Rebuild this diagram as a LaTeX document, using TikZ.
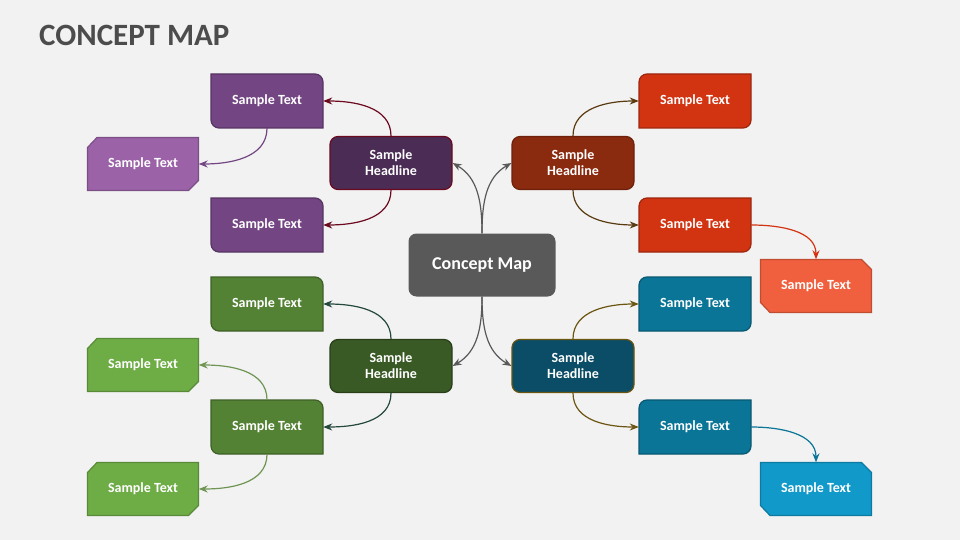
\documentclass[tikz,border=0pt]{standalone}
\usepackage{fontspec}
\setmainfont{Carlito}
\usetikzlibrary{arrows.meta}
\definecolor{bg}{HTML}{F2F2F2}
\definecolor{pH}{HTML}{4B2C55}\definecolor{pS}{HTML}{734683}\definecolor{pC}{HTML}{9B62A8}\definecolor{pL}{HTML}{6B0A1F}
\definecolor{oH}{HTML}{8A2A0F}\definecolor{oS}{HTML}{D23412}\definecolor{oC}{HTML}{F05F3E}\definecolor{oL}{HTML}{5A3A10}
\definecolor{gH}{HTML}{3A5A25}\definecolor{gS}{HTML}{548235}\definecolor{gC}{HTML}{6EAC46}\definecolor{gL}{HTML}{24493A}
\definecolor{tH}{HTML}{0B4D66}\definecolor{tS}{HTML}{0B7597}\definecolor{tC}{HTML}{1199C9}\definecolor{tL}{HTML}{6B5510}
\definecolor{cM}{HTML}{595959}
\tikzset{
 lbl/.style={text=white,font=\bfseries\fontsize{14}{16}\selectfont,align=center,inner sep=0pt},
 conn/.style={line width=1.2pt,-{Stealth[length=9pt,width=7pt]}},
}
% left sample text: rounded NE & SW
\newcommand\stL[4]{\begin{scope}[shift={(#1,#2)}]
 \filldraw[fill=#3,draw=#3!75!black,line width=1.2pt] (-56,27) -- (48,27) arc[start angle=90,end angle=0,radius=8] -- (56,-27) -- (-48,-27) arc[start angle=270,end angle=180,radius=8] -- cycle;
 \end{scope}
 \node[lbl,minimum width=112pt,minimum height=54pt] (#4) at (#1,#2) {Sample Text};}
% right sample text: rounded NW & SE
\newcommand\stR[4]{\begin{scope}[shift={(#1,#2)}]
 \filldraw[fill=#3,draw=#3!75!black,line width=1.2pt] (-48,27) -- (56,27) -- (56,-19) arc[start angle=0,end angle=-90,radius=8] -- (-56,-27) -- (-56,19) arc[start angle=180,end angle=90,radius=8] -- cycle;
 \end{scope}
 \node[lbl,minimum width=112pt,minimum height=54pt] (#4) at (#1,#2) {Sample Text};}
% left clipped: NW & SE
\newcommand\clL[4]{\begin{scope}[shift={(#1,#2)}]
 \filldraw[fill=#3,draw=#3!80!black,line width=1.2pt] (-46,26.5) -- (55.5,26.5) -- (55.5,-16.5) -- (45.5,-26.5) -- (-55.5,-26.5) -- (-55.5,16.5) -- cycle;
 \end{scope}
 \node[lbl,minimum width=111pt,minimum height=53pt] (#4) at (#1,#2) {Sample Text};}
% right clipped: NE & SW
\newcommand\clR[4]{\begin{scope}[shift={(#1,#2)}]
 \filldraw[fill=#3,draw=#3!80!black,line width=1.2pt] (-55.5,26.5) -- (45.5,26.5) -- (55.5,16.5) -- (55.5,-26.5) -- (-46,-26.5) -- (-55.5,-16.5) -- cycle;
 \end{scope}
 \node[lbl,minimum width=111pt,minimum height=53pt] (#4) at (#1,#2) {Sample Text};}
\begin{document}
\begin{tikzpicture}[x=1pt,y=1pt]
\fill[bg] (0,0) rectangle (960,-540);
\useasboundingbox (0,0) rectangle (960,-540);
\node[anchor=west,text=cM!85!black,font=\bfseries\fontsize{31}{34}\selectfont,inner sep=0pt] (title) at (39,-35) {CONCEPT MAP};
% center
\node[fill=cM,rounded corners=8pt,minimum width=147pt,minimum height=63pt,text=white,font=\bfseries\fontsize{18}{20}\selectfont,inner sep=0pt] (c) at (482,-265) {Concept Map};
% headlines
\node[lbl,fill=pH,draw=pL,line width=1.2pt,rounded corners=8pt,minimum width=122pt,minimum height=53pt] (hp) at (391,-163) {Sample\\Headline};
\node[lbl,fill=oH,draw=oH!80!black,line width=1.2pt,rounded corners=8pt,minimum width=122pt,minimum height=53pt] (ho) at (573,-163) {Sample\\Headline};
\node[lbl,fill=gH,draw=gH!70!black,line width=1.2pt,rounded corners=8pt,minimum width=122pt,minimum height=53pt] (hg) at (391,-366) {Sample\\Headline};
\node[lbl,fill=tH,draw=tL,line width=1.2pt,rounded corners=8pt,minimum width=122pt,minimum height=53pt] (ht) at (573,-366) {Sample\\Headline};
% sample texts
\stL{267}{-101}{pS}{p1}\stL{267}{-225}{pS}{p2}\clL{143}{-164}{pC}{p3}
\stR{695}{-101}{oS}{o1}\stR{695}{-225}{oS}{o2}\clR{816}{-286}{oC}{o3}
\stL{267}{-304}{gS}{g1}\stL{267}{-427}{gS}{g2}\clL{143}{-365}{gC}{g3}\clL{143}{-489}{gC}{g4}
\stR{695}{-304}{tS}{t1}\stR{695}{-427}{tS}{t2}\clR{816}{-489}{tC}{t3}
% connectors
\draw[conn,cM] (c.north) to[out=90,in=-30] (hp.east);
\draw[conn,cM] (c.north) to[out=90,in=210] (ho.west);
\draw[conn,cM] (c.south) to[out=-90,in=30] (hg.east);
\draw[conn,cM] (c.south) to[out=-90,in=150] (ht.west);
\draw[conn,pL] (hp.north) to[out=90,in=0] (p1.east);
\draw[conn,pL] (hp.south) to[out=-90,in=0] (p2.east);
\draw[conn,pS] (p1.south) to[out=-90,in=0] (p3.east);
\draw[conn,oL] (ho.north) to[out=90,in=180] (o1.west);
\draw[conn,oL] (ho.south) to[out=-90,in=180] (o2.west);
\draw[conn,oS] (o2.east) to[out=0,in=90] (o3.north);
\draw[conn,gL] (hg.north) to[out=90,in=0] (g1.east);
\draw[conn,gL] (hg.south) to[out=-90,in=0] (g2.east);
\draw[conn,gS!85!white] (g2.north) to[out=90,in=0] (g3.east);
\draw[conn,gS!85!white] (g2.south) to[out=-90,in=0] (g4.east);
\draw[conn,tL] (ht.north) to[out=90,in=180] (t1.west);
\draw[conn,tL] (ht.south) to[out=-90,in=180] (t2.west);
\draw[conn,tS] (t2.east) to[out=0,in=90] (t3.north);
\end{tikzpicture}
\end{document}
